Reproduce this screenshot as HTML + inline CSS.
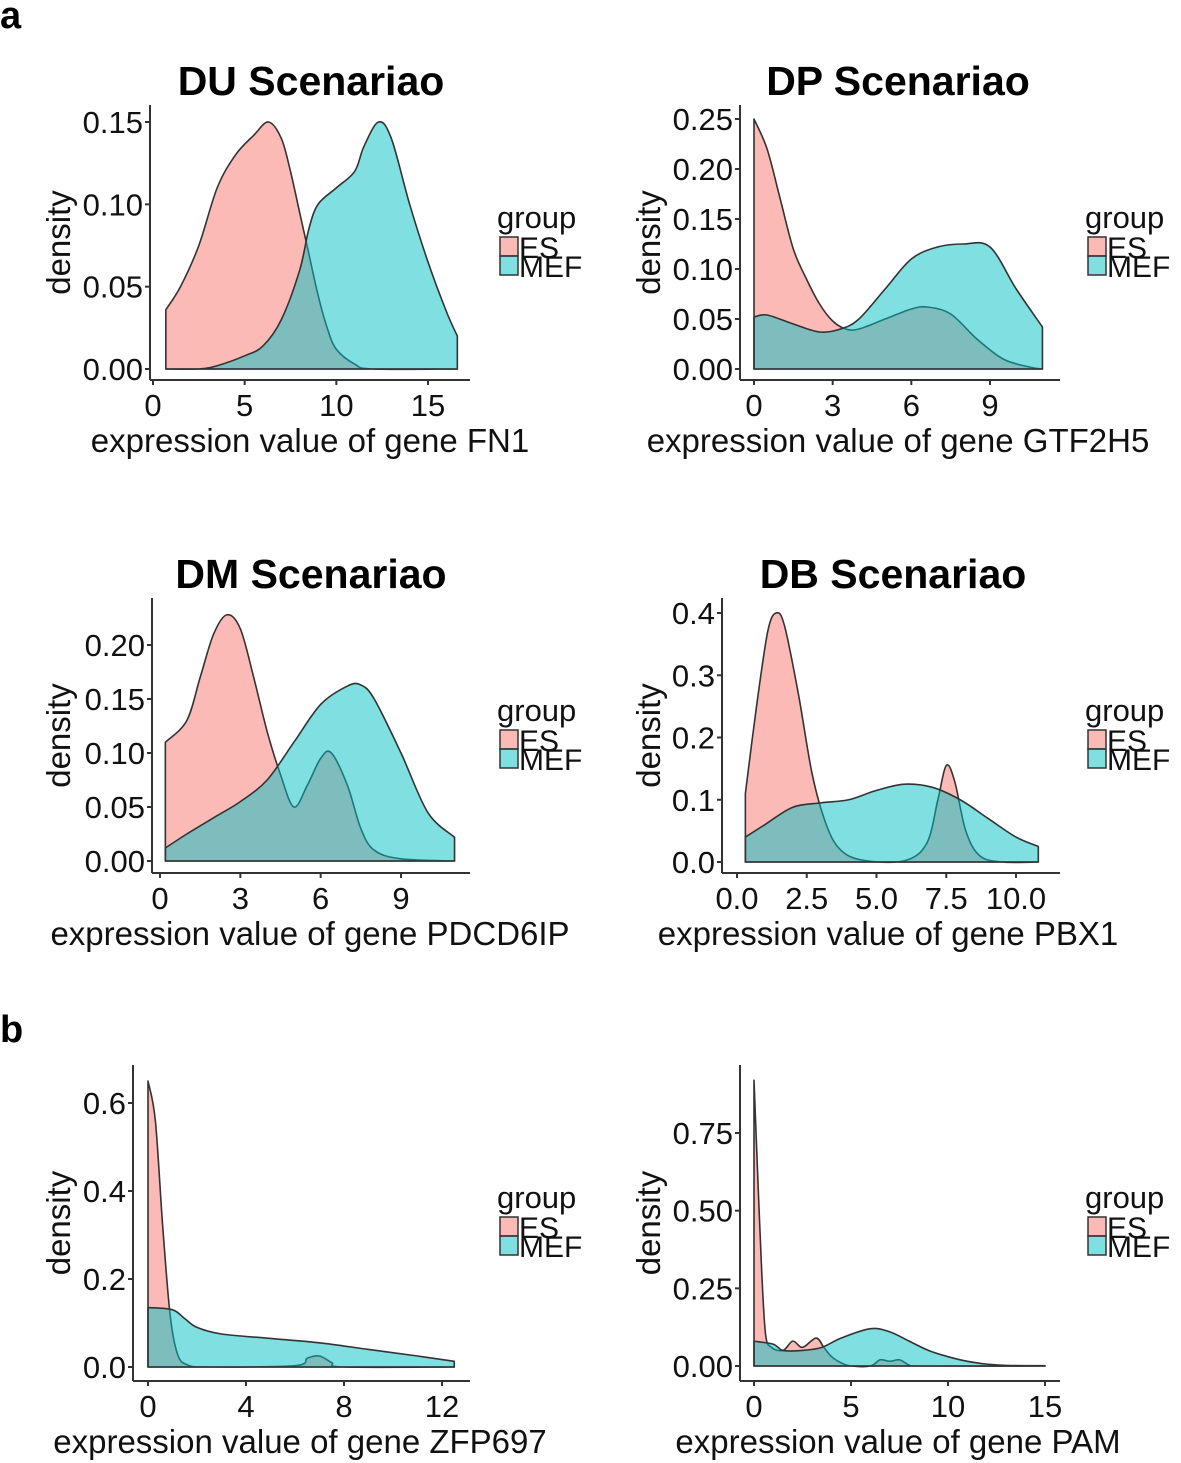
<!DOCTYPE html>
<html><head><meta charset="utf-8">
<style>
html,body{margin:0;padding:0;background:#fff;}
svg{display:block;font-family:"Liberation Sans",Arial,sans-serif;}
</style></head>
<body>
<svg id="fig" width="1181" height="1463" viewBox="0 0 1181 1463">
<text x="0" y="28" font-size="38" font-weight="bold">a</text>
<text x="0" y="1042" font-size="38" font-weight="bold">b</text>
</svg>
<script>
// ---- data ----
const duES=[[0.7,0.036],[1.5,0.05],[2.5,0.075],[3.5,0.11],[4.5,0.13],[5.5,0.142],[6.3,0.15],[7,0.14],[7.5,0.12],[8,0.095],[8.5,0.07],[9,0.045],[9.5,0.025],[10,0.012],[11,0.003],[12,0],[16.6,0]];
const duMEF=[[0.7,0],[2.5,0],[3.5,0.002],[5,0.008],[6,0.014],[7,0.03],[8,0.06],[8.5,0.085],[9,0.1],[10,0.11],[11,0.12],[11.5,0.135],[12.3,0.15],[13,0.14],[14,0.1],[15,0.065],[16,0.035],[16.6,0.02]];
const dpES=[[0,0.25],[0.5,0.22],[1,0.17],[1.5,0.12],[2,0.09],[2.5,0.065],[3,0.048],[3.5,0.04],[4,0.04],[5,0.05],[6,0.06],[6.6,0.062],[7.5,0.055],[8.5,0.03],[9.5,0.01],[10.5,0.002],[11,0]];
const dpMEF=[[0,0.052],[0.5,0.054],[1.5,0.045],[2.5,0.037],[3.3,0.04],[4,0.05],[5,0.08],[6,0.11],[7,0.122],[8,0.125],[9,0.122],[10,0.08],[11,0.042]];
const dmES=[[0.2,0.11],[1,0.13],[1.5,0.17],[2,0.21],[2.5,0.228],[3,0.215],[3.5,0.17],[4,0.12],[4.5,0.08],[5,0.05],[5.5,0.07],[6,0.095],[6.4,0.1],[7,0.07],[7.5,0.03],[8,0.01],[9,0.002],[11,0]];
const dmMEF=[[0.2,0.012],[1,0.025],[2,0.04],[3,0.055],[4,0.075],[5,0.11],[6,0.145],[7,0.162],[7.5,0.163],[8,0.15],[9,0.1],[10,0.045],[11,0.022]];
const dbES=[[0.3,0.11],[0.7,0.25],[1.1,0.37],[1.4,0.4],[1.7,0.38],[2.2,0.27],[2.7,0.14],[3.2,0.06],[3.7,0.02],[4.5,0.003],[6,0.002],[6.8,0.03],[7.2,0.1],[7.5,0.155],[7.8,0.13],[8.2,0.05],[8.7,0.01],[9.5,0],[10.8,0]];
const dbMEF=[[0.3,0.04],[1,0.06],[2,0.088],[3,0.095],[4,0.1],[5,0.115],[6,0.125],[7,0.12],[8,0.1],[9,0.07],[10,0.04],[10.8,0.025]];
const zfES=[[0,0.65],[0.3,0.56],[0.6,0.32],[0.9,0.12],[1.2,0.03],[1.6,0.005],[2.5,0],[6,0.003],[6.5,0.02],[7,0.025],[7.5,0.01],[8,0],[12.5,0]];
const zfMEF=[[0,0.135],[1,0.13],[1.5,0.11],[2,0.09],[3,0.075],[5,0.065],[7,0.055],[9,0.04],[11,0.025],[12.5,0.013]];
const pamES=[[0,0.92],[0.2,0.6],[0.4,0.3],[0.6,0.1],[0.9,0.06],[1.5,0.05],[2,0.08],[2.5,0.06],[3.2,0.09],[3.6,0.06],[4,0.03],[4.5,0.01],[5,0],[6,0],[6.5,0.02],[7,0.015],[7.5,0.02],[8,0.003],[8.5,0],[15,0]];
const pamMEF=[[0,0.08],[1,0.07],[1.5,0.05],[2.5,0.05],[3.5,0.06],[4.5,0.09],[6,0.12],[7,0.11],[8,0.08],[9,0.05],[10,0.03],[11,0.015],[12,0.006],[13,0.002],[15,0.001]];
const duXT=[0,5,10,15], duYT=[0,0.05,0.10,0.15];
const dpXT=[0,3,6,9], dpYT=[0,0.05,0.10,0.15,0.20,0.25];
const dmXT=[0,3,6,9], dmYT=[0,0.05,0.10,0.15,0.20];
const dbXT=[0,2.5,5,7.5,10], dbYT=[0,0.1,0.2,0.3,0.4];
const zfXT=[0,4,8,12], zfYT=[0,0.2,0.4,0.6];
const pamXT=[0,5,10,15], pamYT=[0,0.25,0.5,0.75];
// ---- drawing ----
const NS='http://www.w3.org/2000/svg';
const svg=document.getElementById('fig');
function mk(tag,attrs,parent){const e=document.createElementNS(NS,tag);for(const k in attrs)e.setAttribute(k,attrs[k]);(parent||svg).appendChild(e);return e;}
function smooth(pts){let d='M'+pts[0][0]+','+pts[0][1];for(let i=0;i<pts.length-1;i++){const p0=pts[Math.max(i-1,0)],p1=pts[i],p2=pts[i+1],p3=pts[Math.min(i+2,pts.length-1)];const c1x=p1[0]+(p2[0]-p0[0])/6,c1y=p1[1]+(p2[1]-p0[1])/6,c2x=p2[0]-(p3[0]-p1[0])/6,c2y=p2[1]-(p3[1]-p1[1])/6;d+=' C'+c1x+','+c1y+' '+c2x+','+c2y+' '+p2[0]+','+p2[1];}return d;}
function panel(c){
  const g=mk('g',{});
  
  
  const X=v=>c.x0+(v)*(c.x1-c.x0)/(c.xv1);
  const Y=v=>c.y0-(v)*(c.y0-c.y1)/(c.yv1);
  if(c.title){const t=mk('text',{x:c.tx,y:c.ty,'font-size':41,'font-weight':'bold','text-anchor':'middle'},g);t.textContent=c.title;}
  [[c.es,'#F8766D','es-density-area'],[c.mef,'#00BFC4','mef-density-area']].forEach(([d,col,nm])=>{
    const pts=d.map(p=>[X(p[0]),Y(p[1])]);
    const path=smooth(pts)+' L'+pts[pts.length-1][0]+','+Y(0)+' L'+pts[0][0]+','+Y(0)+' Z';
    const e=mk('path',{d:path,fill:col,'fill-opacity':0.5,stroke:'#333','stroke-width':1.6,'stroke-linejoin':'round'},g);
    
    
  });
  const ya=mk('line',{x1:c.ax,y1:c.axTop,x2:c.ax,y2:c.ay,stroke:'#333','stroke-width':2},g);
  
  const xa=mk('line',{x1:c.ax,y1:c.ay,x2:c.axRight,y2:c.ay,stroke:'#333','stroke-width':2},g);
  
  c.yt.forEach(v=>{const y=Y(v);mk('line',{x1:c.ax-5,y1:y,x2:c.ax,y2:y,stroke:'#333','stroke-width':2},g);
    const t=mk('text',{x:c.ax-7,y:y+11,'font-size':31,'text-anchor':'end',fill:'#111'},g);t.textContent=v.toFixed(c.yd);
    });
  c.xt.forEach(v=>{const x=X(v);mk('line',{x1:x,y1:c.ay,x2:x,y2:c.ay+5,stroke:'#333','stroke-width':2},g);
    const t=mk('text',{x:x,y:c.ay+36,'font-size':31,'text-anchor':'middle',fill:'#111'},g);t.textContent=v.toFixed(c.xd);
    });
  const xl=mk('text',{x:c.xlx,y:c.ay+72,'font-size':33,'text-anchor':'middle',fill:'#111'},g);xl.textContent=c.xlab;
  
  const yl=mk('text',{x:0,y:0,'font-size':33,'text-anchor':'middle',fill:'#111',transform:'translate('+(c.ylx)+','+((c.axTop+c.ay)/2)+') rotate(-90)'},g);yl.textContent='density';
  
  const lx=c.lx,ly=c.ly;
  const lt=mk('text',{x:lx-3,y:ly,'font-size':31,fill:'#111'},g);lt.textContent='group';
  
  [['ES','#F8766D',0],['MEF','#00BFC4',1]].forEach(([n,col,i])=>{
    const r=mk('rect',{x:lx,y:ly+9+i*19,width:18,height:19,fill:col,'fill-opacity':0.5,stroke:'#333','stroke-width':1.5},g);
    
    const t=mk('text',{x:lx+19,y:ly+30+i*19,'font-size':30,fill:'#111'},g);t.textContent=n;
    
  });
}
panel({name:'du-panel',title:'DU Scenariao',tx:311,ty:95,es:duES,mef:duMEF,x0:153,x1:428,xv1:15,y0:369,y1:122,yv1:0.15,ax:150,axTop:105,ay:380,axRight:470,xt:duXT,yt:duYT,xd:0,yd:2,xlab:'expression value of gene FN1',xlx:310,ylx:70,lx:500,ly:228});
panel({name:'dp-panel',title:'DP Scenariao',tx:898,ty:95,es:dpES,mef:dpMEF,x0:754,x1:990,xv1:9,y0:369,y1:119,yv1:0.25,ax:740,axTop:105,ay:380,axRight:1060,xt:dpXT,yt:dpYT,xd:0,yd:2,xlab:'expression value of gene GTF2H5',xlx:898,ylx:660,lx:1088,ly:228});
panel({name:'dm-panel',title:'DM Scenariao',tx:311,ty:588,es:dmES,mef:dmMEF,x0:160,x1:401,xv1:9,y0:861,y1:645,yv1:0.20,ax:152,axTop:598,ay:873,axRight:470,xt:dmXT,yt:dmYT,xd:0,yd:2,xlab:'expression value of gene PDCD6IP',xlx:310,ylx:70,lx:500,ly:721});
panel({name:'db-panel',title:'DB Scenariao',tx:893,ty:588,es:dbES,mef:dbMEF,x0:737,x1:1016,xv1:10,y0:862,y1:613,yv1:0.4,ax:722,axTop:598,ay:873,axRight:1060,xt:dbXT,yt:dbYT,xd:1,yd:1,xlab:'expression value of gene PBX1',xlx:888,ylx:660,lx:1088,ly:721});
panel({name:'zfp697-panel',title:'',es:zfES,mef:zfMEF,x0:148,x1:442,xv1:12,y0:1367,y1:1103,yv1:0.6,ax:133,axTop:1065,ay:1381,axRight:470,xt:zfXT,yt:zfYT,xd:0,yd:1,xlab:'expression value of gene ZFP697',xlx:300,ylx:70,lx:500,ly:1208});
panel({name:'pam-panel',title:'',es:pamES,mef:pamMEF,x0:754,x1:1045,xv1:15,y0:1366,y1:1133,yv1:0.75,ax:740,axTop:1065,ay:1381,axRight:1060,xt:pamXT,yt:pamYT,xd:0,yd:2,xlab:'expression value of gene PAM',xlx:898,ylx:660,lx:1088,ly:1208});
</script>
</body></html>
